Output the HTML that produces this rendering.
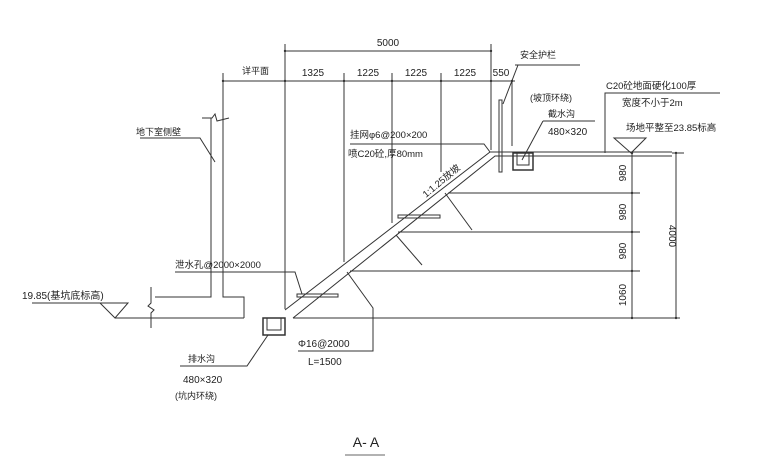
<!DOCTYPE html>
<html><head><meta charset="utf-8"><style>
html,body{margin:0;padding:0;background:#fff;}
svg{display:block;}
text{font-family:"Liberation Sans","Noto Sans CJK SC",sans-serif;font-size:10px;fill:#222;}
</style></head><body>
<svg width="760" height="471" viewBox="0 0 760 471" xmlns="http://www.w3.org/2000/svg">
<g stroke="#333" stroke-width="1" fill="none">
<!-- ground bottom -->
<polyline points="32,303 128,303"/>
<polygon points="100,303 128,303 115,318"/>
<line x1="115" y1="318" x2="244" y2="318"/>
<line x1="293" y1="318" x2="680" y2="318"/>
<polyline points="151,287 151,303 148,306 154,310 151,313 151,328"/>
<!-- wall -->
<polyline points="155,297 211,297 211,118"/>
<polyline points="223,118 223,297 244,297 244,318"/>
<polyline points="202,118 212,118 215,114 217,121 229,118"/>
<!-- ditch bottom -->
<rect x="263" y="318" width="22" height="17" stroke-width="1.5"/>
<rect x="267" y="318" width="14" height="12"/>
<!-- slope -->
<polyline points="285,310 490,152 672,152"/>
<polyline points="293,318 495,156 672,156"/>
<!-- benches -->
<line x1="448" y1="193" x2="640" y2="193"/>
<line x1="398" y1="232" x2="640" y2="232"/>
<line x1="350" y1="271" x2="640" y2="271"/>
<!-- nails -->
<line x1="445" y1="193" x2="472" y2="230"/>
<line x1="396" y1="235" x2="422" y2="265"/>
<polyline points="347,272 373,308 373,351 298,351"/>
<!-- drain holes -->
<rect x="398" y="215" width="42" height="3"/>
<rect x="297" y="294" width="41" height="3"/>
<!-- top ditch -->
<rect x="513" y="153" width="20" height="17" stroke-width="1.5"/>
<rect x="517" y="153" width="12" height="12"/>
<!-- railing -->
<rect x="499" y="100" width="3" height="72"/>
<!-- dims top -->
<line x1="285" y1="51" x2="491" y2="51"/>
<line x1="285" y1="44" x2="285" y2="309"/>
<line x1="491" y1="44" x2="491" y2="150"/>
<line x1="223" y1="81" x2="515" y2="81"/>
<line x1="223" y1="73" x2="223" y2="118"/>
<line x1="344" y1="73" x2="344" y2="262"/>
<line x1="392" y1="73" x2="392" y2="223"/>
<line x1="441" y1="73" x2="441" y2="172"/>
<line x1="512" y1="81" x2="512" y2="146"/>
<!-- right dims -->
<line x1="632" y1="153" x2="632" y2="318"/>
<line x1="676" y1="153" x2="676" y2="318"/>
<line x1="672" y1="153" x2="684" y2="153"/>
<!-- leaders -->
<polyline points="140,138 200,138 215,162"/>
<polyline points="515,65 580,65"/><line x1="518" y1="65" x2="503" y2="104"/>
<polyline points="543,121 595,121"/><line x1="543" y1="121" x2="522" y2="160"/>
<polyline points="720,93 605,93 605,153"/>
<polygon points="614,138 646,138 631,153"/>
<polyline points="350,144 484,144 490,152"/>
<polyline points="175,272 295,272 302,294"/>
<polyline points="180,366 247,366 268,335"/>
<line x1="345" y1="455" x2="385" y2="455" stroke="#999" stroke-width="1.5"/>
</g>
<g fill="#333">
<circle cx="285" cy="51" r="1.2"/><circle cx="491" cy="51" r="1.2"/>
<circle cx="223" cy="81" r="1.2"/><circle cx="285" cy="81" r="1.2"/><circle cx="344" cy="81" r="1.2"/><circle cx="392" cy="81" r="1.2"/><circle cx="441" cy="81" r="1.2"/><circle cx="491" cy="81" r="1.2"/><circle cx="512" cy="81" r="1.2"/>
<circle cx="632" cy="153" r="1.2"/><circle cx="632" cy="193" r="1.2"/><circle cx="632" cy="232" r="1.2"/><circle cx="632" cy="271" r="1.2"/><circle cx="632" cy="318" r="1.2"/>
<circle cx="676" cy="153" r="1.2"/><circle cx="676" cy="318" r="1.2"/>
</g>
<text x="388" y="46" text-anchor="middle">5000</text>
<text x="242" y="74" style="font-size:9px">详平面</text>
<text x="313" y="76" text-anchor="middle">1325</text>
<text x="368" y="76" text-anchor="middle">1225</text>
<text x="416" y="76" text-anchor="middle">1225</text>
<text x="465" y="76" text-anchor="middle">1225</text>
<text x="501" y="76" text-anchor="middle">550</text>
<text x="520" y="58" style="font-size:9px">安全护栏</text>
<text x="530" y="101" style="font-size:9px">(坡顶环绕)</text>
<text x="548" y="117" style="font-size:9px">截水沟</text>
<text x="548" y="135">480×320</text>
<text x="606" y="89" style="font-size:9.5px">C20砼地面硬化100厚</text>
<text x="622" y="106" style="font-size:9.5px">宽度不小于2m</text>
<text x="626" y="131" style="font-size:9.5px">场地平整至23.85标高</text>
<text x="350" y="138" style="font-size:9.5px">挂网φ6@200×200</text>
<text x="348" y="157" style="font-size:9.5px">喷C20砼,厚80mm</text>
<text x="0" y="0" transform="translate(426,198) rotate(-40)" style="font-size:9.5px">1:1.25放坡</text>
<text x="136" y="135" style="font-size:9px">地下室侧壁</text>
<text x="175" y="268" style="font-size:9.5px">泄水孔@2000×2000</text>
<text x="22" y="299">19.85(基坑底标高)</text>
<text x="298" y="347">Φ16@2000</text>
<text x="308" y="365">L=1500</text>
<text x="188" y="362" style="font-size:9px">排水沟</text>
<text x="183" y="383">480×320</text>
<text x="175" y="399" style="font-size:9px">(坑内环绕)</text>
<g style="font-size:9.5px">
<text transform="translate(626,173) rotate(-90)" text-anchor="middle">980</text>
<text transform="translate(626,212) rotate(-90)" text-anchor="middle">980</text>
<text transform="translate(626,251) rotate(-90)" text-anchor="middle">980</text>
<text transform="translate(626,295) rotate(-90)" text-anchor="middle">1060</text>
<text transform="translate(669,236) rotate(90)" text-anchor="middle">4000</text>
</g>
<text x="366" y="447" text-anchor="middle" style="font-size:14px">A- A</text>
</svg>
</body></html>
